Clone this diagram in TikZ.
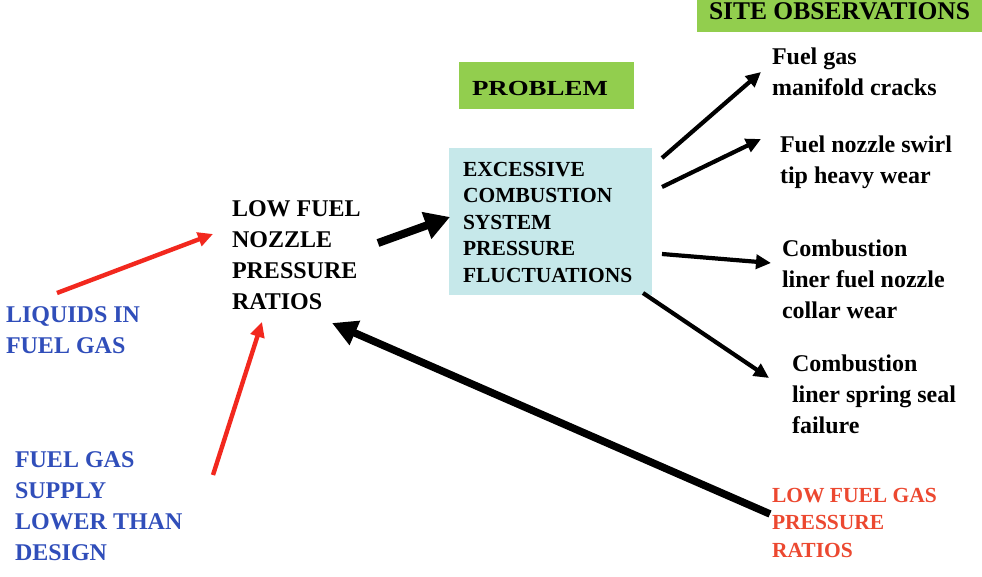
\documentclass[tikz,border=0pt]{standalone}
\usepackage{fontspec}
\setmainfont{Liberation Serif}
\usetikzlibrary{arrows.meta}
\definecolor{hdrgreen}{RGB}{146,206,78}
\definecolor{boxcyan}{RGB}{198,232,234}
\definecolor{txtblue}{RGB}{48,78,186}
\definecolor{txtred}{RGB}{236,72,48}
\definecolor{arrred}{RGB}{242,40,30}
\begin{document}
\begin{tikzpicture}[x=1pt,y=-1pt,
  every node/.style={inner sep=0pt,outer sep=0pt},
  txt/.style={align=left,anchor=north west,font=\bfseries\fontsize{24}{31}\selectfont},
  small/.style={align=left,anchor=north west,font=\bfseries\fontsize{21.5}{26.5}\selectfont},
  redtxt/.style={align=left,anchor=north west,text=txtred,font=\bfseries\fontsize{21.5}{27.5}\selectfont},
  bluetxt/.style={txt,text=txtblue},
  thickarr/.style={line width=8pt,-{Triangle[length=25pt,width=27pt]}},
  thinarr/.style={line width=4.2pt,-{Triangle[length=15pt,width=14pt]}},
  redarr/.style={draw=arrred,line width=4.4pt,-{Triangle[length=15pt,width=14pt]},arrred}]
\useasboundingbox (0,0) rectangle (982,577);
\clip (0,0) rectangle (982,577);
\fill[white] (0,0) rectangle (982,577);

% header boxes
\node[fill=hdrgreen,minimum width=300pt,minimum height=42pt,anchor=south west] (sitebox) at (697,32) {};
\node[anchor=base west,font=\bfseries\fontsize{25.5}{30}\selectfont] (sitetxt) at (709,19.5) {SITE OBSERVATIONS};
\node[fill=hdrgreen,minimum width=175pt,minimum height=47pt,anchor=north west] (probbox) at (459,62) {};
\node[anchor=base west,font=\bfseries\fontsize{21.5}{26}\selectfont] (probtxt) at (472,96) {\scalebox{1.25}[1]{PROBLEM}};

% problem box
\node[fill=boxcyan,minimum width=203pt,minimum height=147pt,anchor=north west] (excbox) at (449,148) {};
\node[small] (exctxt) at (463,162) {EXCESSIVE\\COMBUSTION\\SYSTEM\\PRESSURE\\FLUCTUATIONS};

% cause texts
\node[txt] (lowfuel) at (232,201) {LOW FUEL\\NOZZLE\\PRESSURE\\RATIOS};
\node[bluetxt] (liquids) at (6,307) {LIQUIDS IN\\FUEL GAS};
\node[bluetxt] (supply) at (15,452) {FUEL GAS\\SUPPLY\\LOWER THAN\\DESIGN};
\node[redtxt] (lowgas) at (772,488) {LOW FUEL GAS\\PRESSURE\\RATIOS};

% observations
\node[txt] (obs1) at (772,48) {Fuel gas\\manifold cracks};
\node[txt] (obs2) at (780,136) {Fuel nozzle swirl\\tip heavy wear};
\node[txt] (obs3) at (782,240) {Combustion\\liner fuel nozzle\\collar wear};
\node[txt] (obs4) at (792,355) {Combustion\\liner spring seal\\failure};

% connector end points
\coordinate (lfOut) at (378,243);
\coordinate (excIn) at (450,217);
\coordinate (o1s) at (662,158); \coordinate (o1e) at (761,72);
\coordinate (o2s) at (662,187); \coordinate (o2e) at (761,139);
\coordinate (o3s) at (662,254); \coordinate (o3e) at (771,263);
\coordinate (o4s) at (643,293); \coordinate (o4e) at (769,378);
\coordinate (lgOut) at (770,514); \coordinate (lfIn1) at (332,323);
\coordinate (liqOut) at (57,293); \coordinate (lfIn2) at (213,234);
\coordinate (supOut) at (213,475); \coordinate (lfIn3) at (262,322);

% connectors
\draw[thickarr] (lfOut) -- (excIn);
\draw[thinarr] (o1s) -- (o1e);
\draw[thinarr] (o2s) -- (o2e);
\draw[thinarr] (o3s) -- (o3e);
\draw[thinarr] (o4s) -- (o4e);
\draw[line width=7.5pt,-{Triangle[length=25pt,width=25pt]}] (lgOut) -- (lfIn1);
\draw[redarr] (liqOut) -- (lfIn2);
\draw[redarr] (supOut) -- (lfIn3);
\end{tikzpicture}
\end{document}
